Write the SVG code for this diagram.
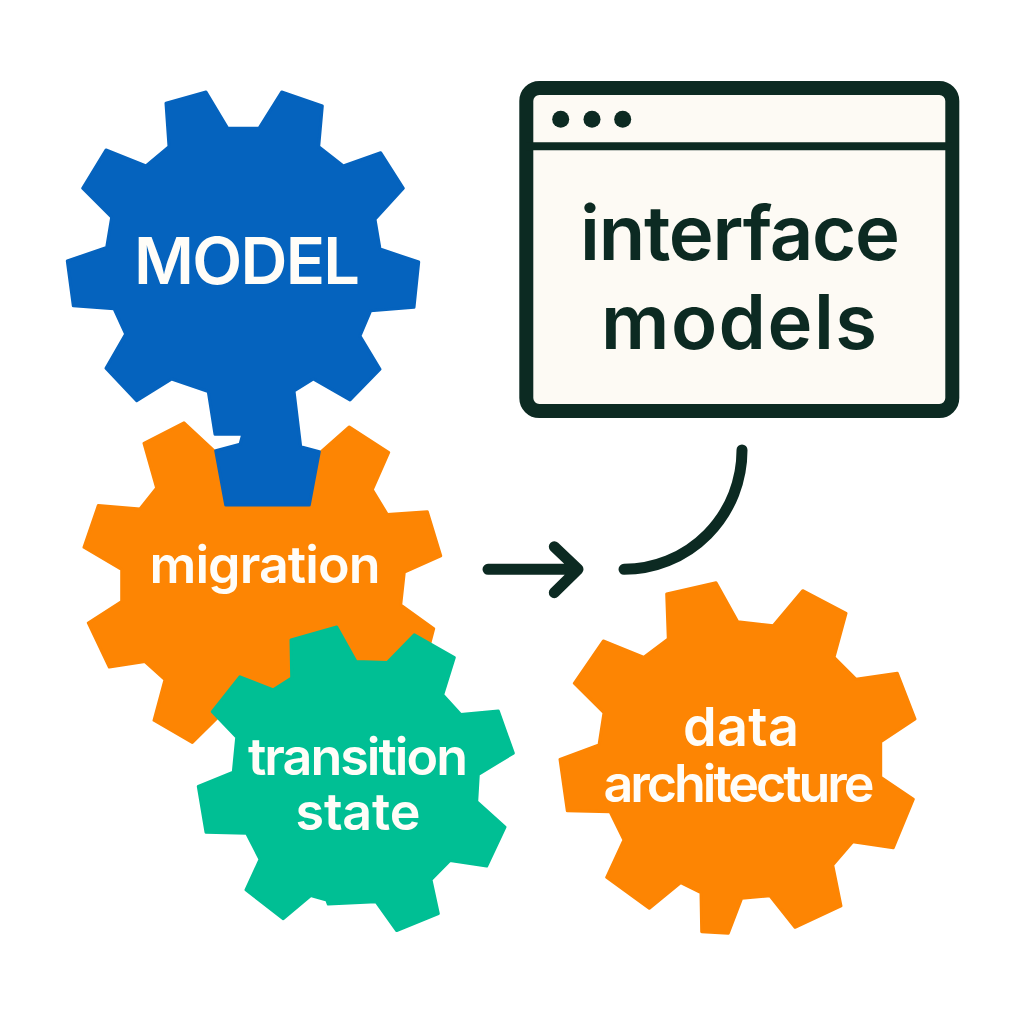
<svg xmlns="http://www.w3.org/2000/svg" width="1024" height="1024" viewBox="0 0 1024 1024">
<style>
text{font-family:Inter,"Liberation Sans",sans-serif;text-anchor:middle}
.gear{stroke-width:3;stroke-linejoin:round}
.blue{fill:#0563BE;stroke:#0563BE}
.orange{fill:#FD8503;stroke:#FD8503}
.green{fill:#00BF94;stroke:#00BF94}
.w{fill:#FFFDF8;font-weight:600;font-size:52px}
.d{fill:#0C2A22;font-weight:600;font-size:76px}
.line{fill:none;stroke:#0C2A22;stroke-width:11;stroke-linecap:round;stroke-linejoin:round}
</style>
<rect width="1024" height="1024" fill="#FFFFFF"/>
<g id="node-migration">
<polygon class="gear orange" points="144,443.3 184,422.9 215.7,452.4 319.3,453.4 349.3,427 388.7,452.4 372.3,489.7 387.3,514.5 427.3,511.7 440.7,555.8 404.3,572.1 400.7,605 433.7,628.7 428.3,649 403.3,681.3 270,715 226.7,708.4 192.3,742.4 154,720.3 165,679.6 145,661.6 109.3,667.1 88.3,622.9 121.7,601.6 121.7,569.4 84,547.3 98.3,505.6 140,509 156.7,488"/>
<text class="w" x="265" y="583" textLength="231">migration</text>
</g>
<g id="node-model">
<polygon class="gear blue" points="166,103.3 206,92 227.7,128.3 259,128.3 281.7,92 322.3,106 318.7,146.7 343.3,166 380.7,152.7 403.3,188.3 375,219.3 380,249 418.7,262 414,307.3 370.7,310.7 360,336 380,369.3 350,400 313.3,379 294,391 300.7,446.7 319.3,451.7 309.3,505 225.7,505 215.7,450.7 240,444.3 242.7,434.3 215,434.3 208.3,391.7 171.7,379 136.7,400.7 106,368.3 125.7,334 114,308.7 73.3,305.7 67.3,261 106.7,247.3 111.7,217.3 82.7,188.3 106,150 146,166 169,146.7"/>
<text class="w" x="247" y="284" style="font-size:65px" textLength="226">MODEL</text>
</g>
<g id="node-transition-state">
<polygon class="gear green" points="291,639.9 336.7,627 356,661.6 387.3,662.6 414.3,634.8 454.3,657.5 442.7,694.8 460.7,714.5 498.3,711.1 513.3,753.1 478.3,774.5 476.7,801.7 505,827.1 486.7,866.1 450,860.4 431,879.7 438.3,913.6 396.7,930.5 376,901.7 328.3,904.1 326.7,900 310.7,895.6 283.3,918.7 246,889.9 260,859.4 246.7,833.2 206,832.2 198.3,786.4 233.3,772.2 236.7,737.3 212.3,711.8 240,676.8 273.3,689.8 291.7,677.9"/>
<text class="w" x="358" y="775" textLength="220">transition</text>
<text class="w" x="358" y="830" textLength="125">state</text>
</g>
<g id="node-data-architecture">
<polygon class="gear orange" points="666.7,594 716,582.7 737.7,621.7 773.3,625.7 802.7,590.7 846,613.3 834,657.3 856,679.3 897.3,673.3 915,719 880.7,741.7 880.7,777.3 913.3,799.3 893.3,847.7 852.7,841.7 832.7,865 841,906 795,927.3 770,895.7 741.7,898.3 728.3,933.3 701.7,931.7 701,892.7 680.7,882.7 649.3,908.3 606.7,877.3 624,840 610,811.7 567.3,810.7 560,759.3 599,745 604,712.7 574.3,683.3 603.3,641 644,657.3 668.3,639"/>
<text class="w" x="741" y="745.5" style="font-size:54px" textLength="116">data</text>
<text class="w" x="739" y="801.7" textLength="271">architecture</text>
</g>
<g id="node-interface-models">
<rect x="526.3" y="88" width="426" height="323" rx="13" fill="#FDFAF4" stroke="#0C2A22" stroke-width="14"/>
<line x1="526" y1="146.2" x2="952" y2="146.2" stroke="#0C2A22" stroke-width="8"/>
<g fill="#0C2A22"><circle cx="560.7" cy="119.3" r="8.5"/><circle cx="592" cy="119.3" r="8.5"/><circle cx="622.7" cy="119.3" r="8.5"/></g>
<text class="d" x="740" y="260" textLength="320">interface</text>
<text class="d" x="739" y="348.7" textLength="276">models</text>
</g>
<g id="connectors">
<path class="line" d="M488 569.3H578M554.3 546.7L578 569.3L554.3 592.7"/>
<path class="line" d="M742 450A118 119 0 0 1 624 569.3"/>
</g>
</svg>
